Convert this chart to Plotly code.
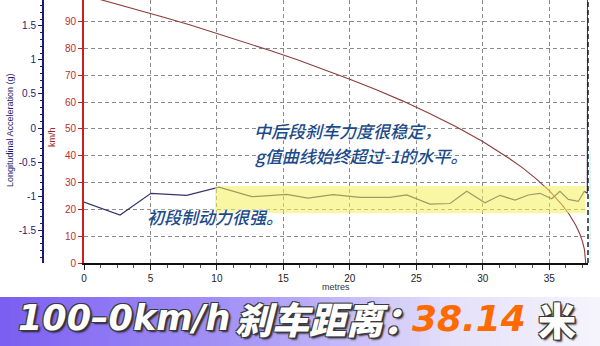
import plotly.graph_objects as go

# ---------------- data ----------------
speed_dist = [0, 2, 4, 6, 8, 10, 12, 14, 16, 18, 20, 22, 24, 26, 28, 30, 32, 33, 34, 35,
              36, 36.5, 37, 37.3, 37.5, 37.65, 37.75]
speed_kmh = [100, 97.3, 94.6, 91.7, 88.8, 85.7, 82.6, 79.3, 75.9, 72.3, 68.6, 64.6, 60.4, 55.8,
             50.8, 45.3, 39.0, 35.5, 31.5, 27.0, 21.5, 18.2, 14.1, 10.9, 8.1, 5.1, 0]

acc_dist = [0, 2.71, 5.04, 7.73, 10.16, 12.62, 15.25, 16.85, 18.74, 20.77, 23.02, 24.28, 26.03,
            27.54, 28.8, 30.17, 31.3, 32.43, 33.43, 34.31, 35.19, 35.81, 36.44, 37.19, 37.64,
            37.87, 37.9]
acc_g = [-1.09, -1.28, -0.96, -0.99, -0.87, -1.01, -0.975, -1.03, -0.98, -1.02, -1.02, -0.985,
         -1.12, -1.11, -0.93, -1.10, -0.99, -1.06, -0.985, -0.96, -1.04, -0.93, -1.05, -1.08,
         -0.93, -0.96, 2.2]

x_ticks = [0, 5, 10, 15, 20, 25, 30, 35]
kmh_ticks = [0, 10, 20, 30, 40, 50, 60, 70, 80, 90]
g_ticks = [-1.5, -1, -0.5, 0, 0.5, 1, 1.5]
g_tick_text = ["-1.5", "-1", "-0.5", "0", "0.5", "1", "1.5"]

W, H = 600, 346


def px(x):
    return x / W


def py(y):
    return 1 - y / H


fig = go.Figure()
fig.add_trace(go.Scatter(x=speed_dist, y=speed_kmh, mode="lines",
                         line=dict(color="#8e3b3b", width=1.1), yaxis="y", showlegend=False))
fig.add_trace(go.Scatter(x=acc_dist, y=acc_g, mode="lines",
                         line=dict(color="#34346e", width=1.2), yaxis="y2", showlegend=False))

tickfont = dict(family="Liberation Sans, Arial, sans-serif", size=10)

fig.update_layout(
    width=W, height=H, margin=dict(l=0, r=0, t=0, b=0),
    paper_bgcolor="white", plot_bgcolor="white",
    xaxis=dict(domain=[px(84), px(588)], range=[0, 37.92], tickvals=x_ticks,
               showgrid=True, gridcolor="#8a8a8a", griddash="4px,3px", gridwidth=1,
               showline=True, linecolor="#111", linewidth=2, zeroline=False,
               ticks="outside", ticklen=5, tickcolor="#222",
               minor=dict(dtick=1.25, ticks="outside", ticklen=3, tickcolor="#555", showgrid=False),
               tickfont=dict(tickfont, color="#222"), automargin=False),
    yaxis=dict(domain=[py(263), 1], range=[0, 98.13], tickvals=kmh_ticks,
               showgrid=True, gridcolor="#8a8a8a", griddash="4px,3px", gridwidth=1,
               showline=True, linecolor="#d41e1e", linewidth=2, zeroline=False,
               ticks="outside", ticklen=4, tickcolor="#c42020",
               tickfont=dict(tickfont, color="#b83030"), automargin=False),
    yaxis2=dict(overlaying="y", anchor="free", position=px(43), side="left",
                range=[-1.985, 1.882], tickvals=g_ticks, ticktext=g_tick_text,
                showgrid=False, zeroline=False, showline=True, linecolor="#1c1c78", linewidth=2,
                ticks="outside", ticklen=4, tickcolor="#1c1c78",
                minor=dict(dtick=0.1, ticks="outside", ticklen=2, tickcolor="#1c1c78"),
                tickfont=dict(tickfont, color="#1c1c6e"), automargin=False),
)

shapes = []
# bottom gradient banner
stops = [(0, (122, 94, 242)), (250, (168, 152, 246)), (450, (228, 224, 250)), (600, (246, 245, 252))]
n = 60
for i in range(n):
    x0 = i * W / n
    x1 = (i + 1) * W / n + 0.5
    xc = (x0 + x1) / 2
    for (a, ca), (b, cb) in zip(stops[:-1], stops[1:]):
        if a <= xc <= b:
            t = (xc - a) / (b - a)
            c = tuple(round(ca[k] + (cb[k] - ca[k]) * t) for k in range(3))
            break
    shapes.append(dict(type="rect", xref="paper", yref="paper", x0=px(x0), x1=px(min(x1, W)),
                       y0=0, y1=py(297), line=dict(width=0), fillcolor="rgb(%d,%d,%d)" % c,
                       layer="below"))
# right border dashed
shapes.append(dict(type="line", xref="paper", yref="paper", x0=px(588), x1=px(588), y0=py(263), y1=1,
                   line=dict(color="#222", width=1.5, dash="5px,3px")))
shapes.append(dict(type="line", xref="paper", yref="paper", x0=px(590), x1=px(590), y0=py(263), y1=py(150),
                   line=dict(color="#bfeff5", width=1)))
# yellow highlight
shapes.append(dict(type="rect", xref="paper", yref="paper", x0=px(215), x1=px(585), y0=py(213), y1=py(186),
                   line=dict(width=0), fillcolor="rgba(244,240,90,0.55)", layer="above"))
fig.update_layout(shapes=shapes)

glow = "0 0 2px #fff, 0 0 2px #fff, 0 0 3px #fff"
cjk = "Noto Sans CJK SC, sans-serif"
outline = ("1px 1px 0 #3a3a3a, -1px -1px 0 #3a3a3a, 1px -1px 0 #3a3a3a, -1px 1px 0 #3a3a3a, "
           "2px 2px 2px #222")
note_font = dict(family=cjk, size=17, color="#1a4a8a", style="italic", weight=500, shadow=glow)
ann = [
    dict(x=px(10), y=py(130), xanchor="center", text="Longitudinal Acceleration (g)", textangle=-90,
         font=dict(family="Liberation Sans, Arial", size=9, color="#1c1c6e")),
    dict(x=px(52), y=py(137), xanchor="center", text="km/h", textangle=-90,
         font=dict(family="Liberation Sans, Arial", size=9, color="#a02828")),
    dict(x=px(336), y=py(287), xanchor="center", text="metres",
         font=dict(family="Liberation Sans, Arial", size=9, color="#333")),
    dict(x=px(252), y=py(130.5), xanchor="left", text="中后段刹车力度很稳定，", font=note_font),
    dict(x=px(252), y=py(155.5), xanchor="left", text="g值曲线始终超过-1的水平。", font=note_font),
    dict(x=px(145), y=py(216), xanchor="left", text="初段制动力很强。", font=note_font),
    dict(x=px(16), y=py(318), xanchor="left", text="100–0km/h",
         font=dict(family="DejaVu Sans", size=35, color="white", weight="bold", style="italic",
                   shadow=outline)),
    dict(x=px(233), y=py(318), xanchor="left", text="刹车距离：",
         font=dict(family=cjk, size=37, color="white", weight=900, style="italic", shadow=outline)),
    dict(x=px(410), y=py(318), xanchor="left", text="38.14",
         font=dict(family="DejaVu Sans", size=36, color="#ff6a00", weight="bold", style="italic")),
    dict(x=px(536), y=py(318), xanchor="left", text="米",
         font=dict(family=cjk, size=38, color="white", weight=900, shadow=outline)),
]
for a in ann:
    a.setdefault("xref", "paper")
    a.setdefault("yref", "paper")
    a.setdefault("yanchor", "middle")
    a.setdefault("showarrow", False)
fig.update_layout(annotations=ann)

fig.write_html("out.html")
